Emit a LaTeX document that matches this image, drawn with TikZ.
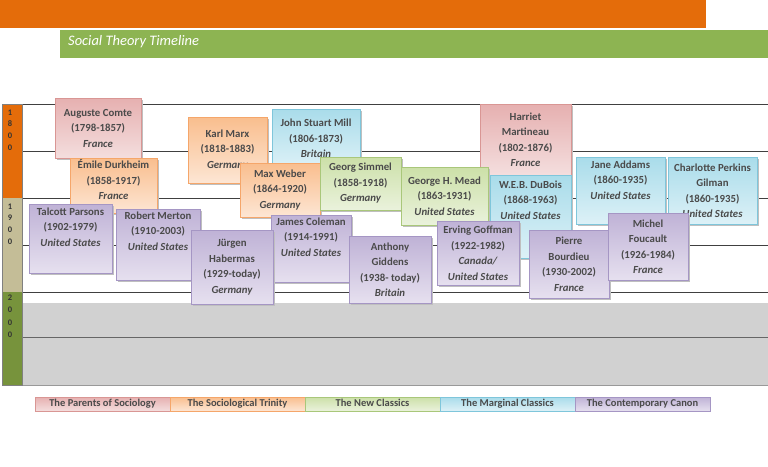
\documentclass[tikz,border=0pt]{standalone}
\usepackage{fontspec}
\setmainfont{Carlito}
\usetikzlibrary{positioning}
\definecolor{orng}{HTML}{E46C0A}
\definecolor{grn}{HTML}{8DB452}
\definecolor{tan}{HTML}{C4BD97}
\definecolor{dgrn}{HTML}{77933C}
\definecolor{txt}{HTML}{4A4A4A}
\definecolor{pkA}{HTML}{E6B0B0}\definecolor{pkB}{HTML}{F4DEDE}\definecolor{pkD}{HTML}{D99694}
\definecolor{orA}{HTML}{F9BE8E}\definecolor{orB}{HTML}{FDE6D4}\definecolor{orD}{HTML}{F5A66A}
\definecolor{gnA}{HTML}{CCE0A8}\definecolor{gnB}{HTML}{EAF2DC}\definecolor{gnD}{HTML}{A9C77A}
\definecolor{blA}{HTML}{A9DCEA}\definecolor{blB}{HTML}{DDF1F7}\definecolor{blD}{HTML}{7FC6DB}
\definecolor{puA}{HTML}{BFB2D6}\definecolor{puB}{HTML}{E6E0EF}\definecolor{puD}{HTML}{A596C4}
\tikzset{
  x=1pt,y=-1pt,
  person/.style={draw=#1D, top color=#1A, bottom color=#1B, align=center, text=txt,
    font=\fontsize{10.8}{15.5}\selectfont\bfseries, inner sep=0pt},
  leg/.style={draw=#1D, top color=#1A, bottom color=#1B, minimum width=135pt, minimum height=14pt,
    text height=7.5pt, text depth=2.5pt,
    inner sep=0pt, text=txt, font=\fontsize{10.5}{11}\selectfont\bfseries},
  hl/.style={draw=black!75, line width=0.8pt},
  dig/.style={font=\fontsize{8.5}{9}\selectfont\bfseries, text=black!80, inner sep=0pt}
}
\newcommand{\pbox}[6]{%
  \fill[black!25] (#3+2,#4+2) rectangle (#5+2,#6+2);
  \node[person=#2, minimum width=#5-#3, minimum height=#6-#4] (#1) at ({(#3+#5)/2},{(#4+#6)/2})}
\begin{document}
\begin{tikzpicture}
\useasboundingbox (0,0) rectangle (768,466);
\fill[white] (0,0) rectangle (768,466);
\fill[orng] (0,0) rectangle (706,28);
\fill[grn] (60,30) rectangle (768,58);
\node[anchor=west, text=white, font=\fontsize{14.5}{16}\selectfont\itshape, inner sep=0pt] (title) at (68,42) {Social Theory Timeline};
\fill[black!18] (22,303) rectangle (768,385);
\draw[hl] (22,104) -- (768,104);
\draw[hl] (22,151) -- (768,151);
\draw[hl] (22,198) -- (768,198);
\draw[hl] (22,245) -- (768,245);
\draw[hl] (22,292) -- (768,292);
\draw[black!60, line width=0.7pt] (22,337) -- (768,337);
\draw[black!40] (22,385) -- (768,385);
\fill[orng] (2,104) rectangle (22,198);
\fill[tan] (2,198) rectangle (22,292);
\fill[dgrn] (2,292) rectangle (22,385);
\draw[black!50] (2,104) rectangle (22,385);
\foreach \d/\y in {1/113,8/124,0/136,0/148} \node[dig] at (10,\y) {\d};
\foreach \d/\y in {1/207,9/218,0/230,0/242} \node[dig] at (10,\y) {\d};
\foreach \d/\y in {2/298,0/310,0/323,0/335} \node[dig] at (10,\y) {\d};
\pbox{comte}{pk}{55}{98}{141}{158} {Auguste Comte\\(1798-1857)\\\itshape France};
\pbox{mill}{bl}{272}{109}{360}{168} {John Stuart Mill\\(1806-1873)\\\itshape Britain};
\pbox{marx}{or}{188}{117}{267}{183} {Karl Marx\\(1818-1883)\\\itshape Germany};
\pbox{durk}{or}{70}{158}{157}{213} {Émile Durkheim\\(1858-1917)\\\itshape France\\[-4pt]};
\pbox{weber}{or}{240}{163}{320}{217} {Max Weber\\(1864-1920)\\\itshape Germany};
\pbox{simmel}{gn}{320}{157}{401}{210} {Georg Simmel\\(1858-1918)\\\itshape Germany};
\pbox{mart}{pk}{480}{104}{571}{175} {Harriet\\Martineau\\(1802-1876)\\\itshape France};
\pbox{mead}{gn}{401}{167}{488}{225} {George H. Mead\\(1863-1931)\\\itshape United States};
\pbox{dubois}{bl}{490}{175}{571}{258} {W.E.B. DuBois\\(1868-1963)\\\itshape United States\\[18pt]};
\pbox{addams}{bl}{576}{157}{665}{224} {Jane Addams\\(1860-1935)\\\itshape United States\\[6pt]};
\pbox{gilman}{bl}{668}{157}{757}{224} {Charlotte Perkins\\Gilman\\(1860-1935)\\\itshape United States};
\pbox{parsons}{pu}{29}{204}{112}{273} {Talcott Parsons\\(1902-1979)\\\itshape United States\\[8pt]};
\pbox{merton}{pu}{116}{209}{200}{280} {Robert Merton\\(1910-2003)\\\itshape United States\\[12pt]};
\pbox{coleman}{pu}{271}{215}{351}{282} {James Coleman\\(1914-1991)\\\itshape United States\\[8pt]};
\pbox{haber}{pu}{191}{230}{273}{304} {Jürgen\\Habermas\\(1929-today)\\\itshape Germany};
\pbox{giddens}{pu}{349}{236}{431}{303} {Anthony\\Giddens\\(1938- today)\\\itshape Britain};
\pbox{goffman}{pu}{437}{221}{519}{285} {Erving Goffman\\(1922-1982)\\\itshape Canada/\\\itshape United States};
\pbox{bourdieu}{pu}{529}{230}{609}{298} {Pierre\\Bourdieu\\(1930-2002)\\\itshape France};
\pbox{foucault}{pu}{608}{213}{688}{280} {Michel\\Foucault\\(1926-1984)\\\itshape France};
\node[leg=pk] (l1) at (102.5,404) {The Parents of Sociology};
\node[leg=or] (l2) at (237.5,404) {The Sociological Trinity};
\node[leg=gn] (l3) at (372.5,404) {The New Classics};
\node[leg=bl] (l4) at (507.5,404) {The Marginal Classics};
\node[leg=pu] (l5) at (642.5,404) {The Contemporary Canon};
\end{tikzpicture}
\end{document}
